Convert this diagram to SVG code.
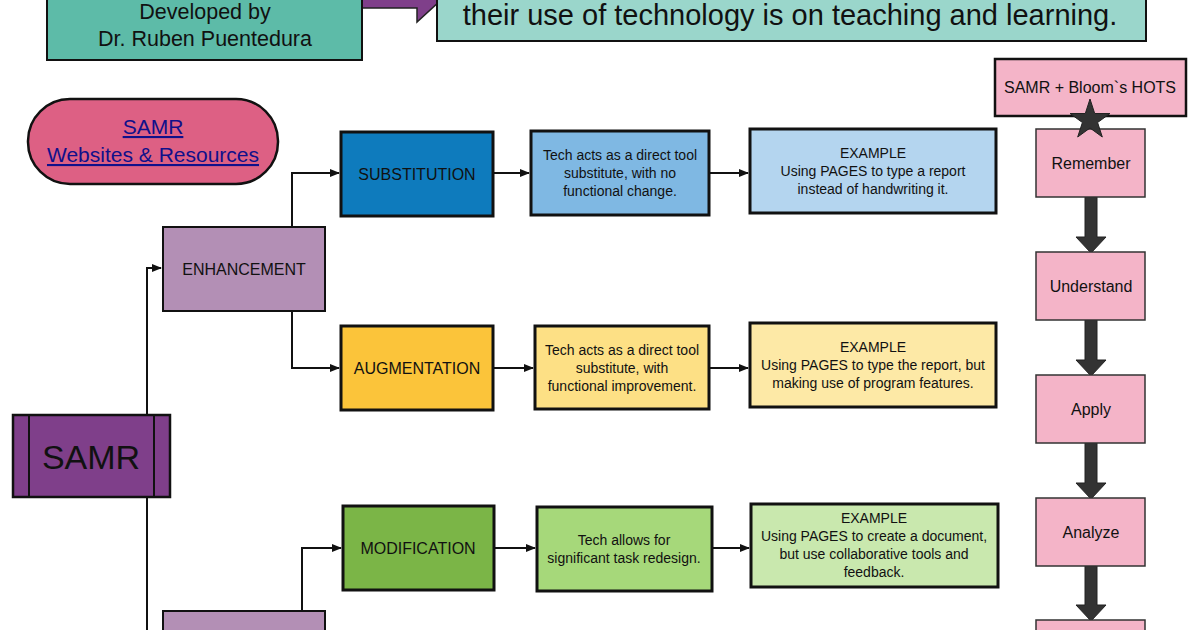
<svg xmlns="http://www.w3.org/2000/svg" width="1200" height="630" viewBox="0 0 1200 630">
<style>
text{font-family:"Liberation Sans","Noto Sans",sans-serif;fill:#111;text-anchor:middle}
.box{stroke:#111;stroke-width:3}
.bl{stroke:#333;stroke-width:1.5;fill:#f4b4c8}
.con{fill:none;stroke:#111;stroke-width:2}
.big{fill:#333;stroke:#222;stroke-width:1}
.t16{font-size:16px}
.t14{font-size:14px}
</style>
<defs>
<marker id="ah" markerWidth="10" markerHeight="8" refX="9" refY="4" orient="auto" markerUnits="userSpaceOnUse">
<path d="M0,0 L10,4 L0,8 Z" fill="#111"/>
</marker>
</defs>
<rect width="1200" height="630" fill="#fff"/>

<g id="arrow-banner">
<polygon points="355,-20 420,-20 420,-35 452,-10 417,22 417,8 355,8" fill="#7f3f8a" stroke="#222" stroke-width="1.5"/>
</g>
<g id="developed">
<rect x="47" y="-5" width="315" height="65" fill="#5dbba8" stroke="#111" stroke-width="2"/>
<text x="205" y="19" style="font-size:21.5px">Developed by</text>
<text x="205" y="46" style="font-size:21.5px">Dr. Ruben Puentedura</text>
</g>
<g id="headline">
<rect x="437" y="-5" width="709" height="46" fill="#9ad6cb" stroke="#111" stroke-width="2"/>
<text x="790" y="25" style="font-size:29px">their use of technology is on teaching and learning.</text>
</g>

<g id="resources">
<rect x="28" y="99" width="250" height="85" rx="42" fill="#dd6084" stroke="#111" stroke-width="2.5"/>
<text x="153" y="134" style="font-size:21px;fill:#10108a;text-decoration:underline">SAMR</text>
<text x="153" y="162" style="font-size:21px;fill:#10108a;text-decoration:underline">Websites &amp; Resources</text>
</g>

<g id="connectors">
<path class="con" d="M147,415 V268 H161" marker-end="url(#ah)"/>
<path class="con" d="M147,497 V640"/>
<path class="con" d="M292,227 V173 H339" marker-end="url(#ah)"/>
<path class="con" d="M292,311 V368 H339" marker-end="url(#ah)"/>
<path class="con" d="M302,611 V548 H341" marker-end="url(#ah)"/>
<path class="con" d="M493,173 H529" marker-end="url(#ah)"/>
<path class="con" d="M709,173 H748" marker-end="url(#ah)"/>
<path class="con" d="M493,368 H533" marker-end="url(#ah)"/>
<path class="con" d="M709,368 H748" marker-end="url(#ah)"/>
<path class="con" d="M494,548 H535" marker-end="url(#ah)"/>
<path class="con" d="M712,548 H749" marker-end="url(#ah)"/>
</g>

<g id="samr">
<rect x="13" y="415" width="157" height="82" fill="#7f3f8a" stroke="#111" stroke-width="2.5"/>
<line x1="29" y1="415" x2="29" y2="497" stroke="#111" stroke-width="2"/>
<line x1="154" y1="415" x2="154" y2="497" stroke="#111" stroke-width="2"/>
<text x="91" y="469" style="font-size:34px">SAMR</text>
</g>

<g id="enhancement">
<rect x="163" y="227" width="162" height="84" fill="#b38fb5" stroke="#111" stroke-width="2"/>
<text x="244" y="275" class="t16">ENHANCEMENT</text>
</g>
<g id="transformation">
<rect x="163" y="611" width="162" height="40" fill="#b38fb5" stroke="#111" stroke-width="2"/>
</g>

<g id="substitution">
<rect class="box" x="341" y="132" width="152" height="84" fill="#0e7bbd"/>
<text x="417" y="180" class="t16">SUBSTITUTION</text>
</g>
<g id="sub-desc">
<rect class="box" x="531" y="131" width="178" height="84" fill="#7fb8e3"/>
<text x="620" y="160" class="t14">Tech acts as a direct tool</text>
<text x="620" y="178" class="t14">substitute, with no</text>
<text x="620" y="196" class="t14">functional change.</text>
</g>
<g id="sub-example">
<rect class="box" x="750" y="129" width="246" height="84" fill="#b4d5ef"/>
<text x="873" y="158" class="t14">EXAMPLE</text>
<text x="873" y="176" class="t14">Using PAGES to type a report</text>
<text x="873" y="194" class="t14">instead of handwriting it.</text>
</g>

<g id="augmentation">
<rect class="box" x="341" y="326" width="152" height="84" fill="#fbc43a"/>
<text x="417" y="374" class="t16">AUGMENTATION</text>
</g>
<g id="aug-desc">
<rect class="box" x="535" y="326" width="174" height="83" fill="#fde085"/>
<text x="622" y="355" class="t14">Tech acts as a direct tool</text>
<text x="622" y="373" class="t14">substitute, with</text>
<text x="622" y="391" class="t14">functional improvement.</text>
</g>
<g id="aug-example">
<rect class="box" x="750" y="323" width="246" height="84" fill="#fde9a6"/>
<text x="873" y="352" class="t14">EXAMPLE</text>
<text x="873" y="370" class="t14">Using PAGES to type the report, but</text>
<text x="873" y="388" class="t14">making use of program features.</text>
</g>

<g id="modification">
<rect class="box" x="343" y="506" width="151" height="84" fill="#7bb547"/>
<text x="418" y="554" class="t16">MODIFICATION</text>
</g>
<g id="mod-desc">
<rect class="box" x="537" y="507" width="175" height="84" fill="#a6d87a"/>
<text x="624" y="545" class="t14">Tech allows for</text>
<text x="624" y="563" class="t14">significant task redesign.</text>
</g>
<g id="mod-example">
<rect class="box" x="751" y="504" width="247" height="83" fill="#c9e8ae"/>
<text x="874" y="523" class="t14">EXAMPLE</text>
<text x="874" y="541" class="t14">Using PAGES to create a document,</text>
<text x="874" y="559" class="t14">but use collaborative tools and</text>
<text x="874" y="577" class="t14">feedback.</text>
</g>

<g id="bloom-arrows">
<polygon class="big" points="1085,197 1097,197 1097,237 1106,237 1091,253 1076,237 1085,237"/>
<polygon class="big" points="1085,320 1097,320 1097,360 1106,360 1091,376 1076,360 1085,360"/>
<polygon class="big" points="1085,443 1097,443 1097,483 1106,483 1091,499 1076,483 1085,483"/>
<polygon class="big" points="1085,566 1097,566 1097,605 1106,605 1091,621 1076,605 1085,605"/>
</g>

<g id="bloom-title">
<rect x="995" y="59" width="191" height="57" fill="#f4b4c8" stroke="#111" stroke-width="2.5"/>
<text x="1090" y="93" class="t16">SAMR + Bloom`s HOTS</text>
</g>
<g id="remember">
<rect class="bl" x="1036" y="129" width="109" height="68"/>
<text x="1091" y="169" class="t16">Remember</text>
</g>
<g id="star">
<polygon points="1090,99 1094.7,113.5 1110,113.5 1097.6,122.5 1102.3,137 1090,128 1077.7,137 1082.4,122.5 1070,113.5 1085.3,113.5" fill="#333" stroke="#222" stroke-width="1"/>
</g>
<g id="understand">
<rect class="bl" x="1036" y="252" width="109" height="68"/>
<text x="1091" y="292" class="t16">Understand</text>
</g>
<g id="apply">
<rect class="bl" x="1036" y="375" width="109" height="68"/>
<text x="1091" y="415" class="t16">Apply</text>
</g>
<g id="analyze">
<rect class="bl" x="1036" y="498" width="109" height="68"/>
<text x="1091" y="538" class="t16">Analyze</text>
</g>
<g id="evaluate">
<rect class="bl" x="1036" y="620" width="109" height="40"/>
</g>
</svg>
